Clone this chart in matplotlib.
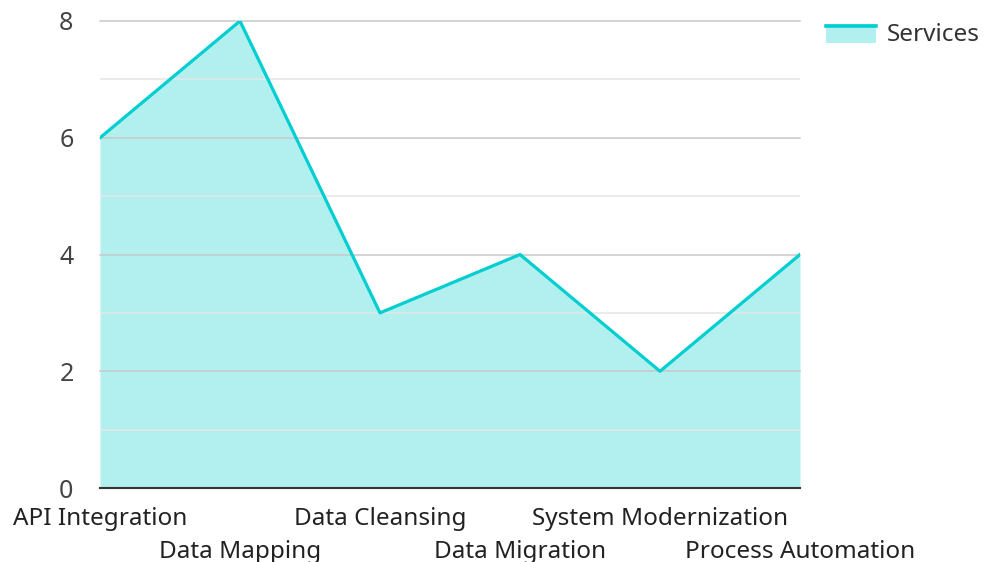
import matplotlib
matplotlib.use('Agg')
import matplotlib.pyplot as plt
from matplotlib.legend_handler import HandlerBase
from matplotlib.patches import Rectangle
from matplotlib.lines import Line2D

categories = ['API Integration', 'Data Mapping', 'Data Cleansing',
              'Data Migration', 'System Modernization', 'Process Automation']
services = [6, 8, 3, 4, 2, 4]

LINE = '#00CED1'
FILL = '#B2EFEF'

plt.rcParams.update({
    'font.family': ['Noto Sans', 'DejaVu Sans'],
    'font.size': 17.5,
})


class AreaHandler(HandlerBase):
    def create_artists(self, legend, orig, xd, yd, w, h, fontsize, trans):
        rect = Rectangle((xd, yd - 0.15 * h), w, h * 1.0, facecolor=FILL,
                         edgecolor='none', transform=trans)
        ln = Line2D([xd, xd + w], [yd + 0.75 * h, yd + 0.75 * h],
                    color=LINE, lw=2.6, transform=trans)
        return [rect, ln]


fig = plt.figure(figsize=(9.83, 5.62), dpi=100)
ax = fig.add_axes([100 / 983, 1 - 488 / 562, 700 / 983, (488 - 21) / 562])

x = list(range(len(categories)))
ax.fill_between(x, services, 0, color=FILL, lw=0, zorder=1)
ax.plot(x, services, color=LINE, lw=2.3, zorder=3)

ax.set_xlim(0, len(categories) - 1)
ax.set_ylim(0, 8)
ax.set_yticks([0, 2, 4, 6, 8])
ax.set_yticks([1, 3, 5, 7], minor=True)
ax.grid(True, which='major', axis='y', color='#c8c8c8', lw=1.1, zorder=2)
ax.grid(True, which='minor', axis='y', color='#e6e6e6', lw=1.1, zorder=2)
for gl in ax.get_ygridlines():
    gl.set_clip_on(False)
ax.set_axisbelow(False)
ax.tick_params(axis='y', which='both', length=0, pad=19, colors='#444444',
               labelsize=18)

ax.set_xticks(x)
ax.set_xticklabels(categories, color='#222222')
ax.tick_params(axis='x', length=0, pad=14, labelsize=17.5)
for i, t in enumerate(ax.xaxis.get_major_ticks()):
    if i % 2 == 1:
        t.set_pad(37.5)

for s in ['top', 'right', 'left']:
    ax.spines[s].set_visible(False)
ax.spines['bottom'].set_color('#333333')
ax.spines['bottom'].set_linewidth(1.5)
ax.spines['bottom'].set_zorder(4)

leg = fig.legend([object()], ['Services'], handler_map={object: AreaHandler()},
                 loc='upper left', bbox_to_anchor=(804 / 983, 1 - 1 / 562),
                 frameon=False, handlelength=2.05, handleheight=0.8,
                 fontsize=17.5, handletextpad=0.45)
for t in leg.get_texts():
    t.set_color('#333333')

fig.savefig('out.png', dpi=100)
